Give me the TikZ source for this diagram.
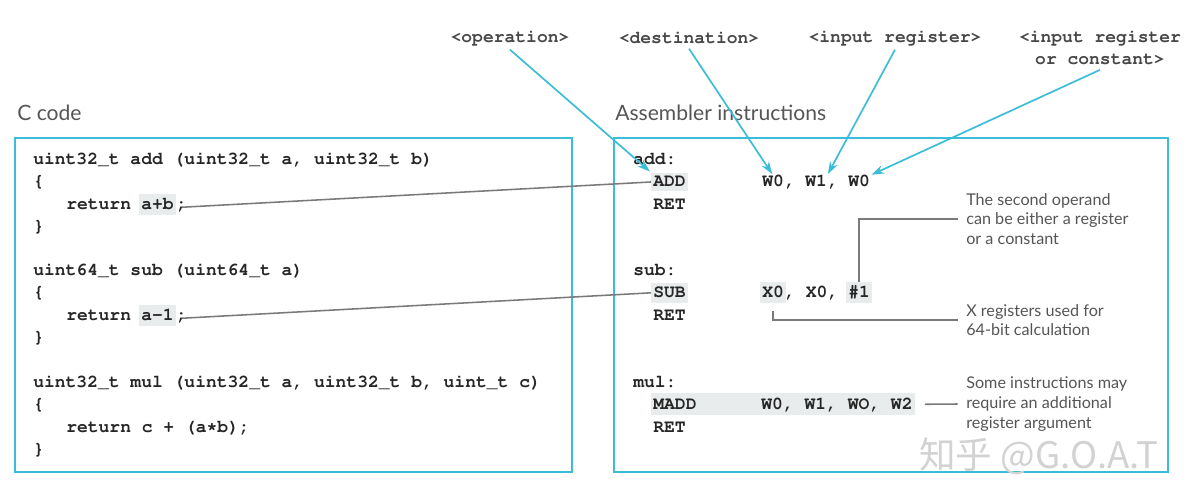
\documentclass[tikz,border=0pt]{standalone}
\usepackage[T1,TU]{fontenc}
\usepackage{fontspec}
\setmainfont{Lato}
\newfontfamily\cjkfont{Noto Sans CJK SC}
\newcommand\courierfont{\fontencoding{T1}\fontfamily{pcr}\selectfont}
\usepackage{tikz}
\usetikzlibrary{arrows.meta,positioning}

\definecolor{cyanline}{HTML}{3BBDD7}
\definecolor{hlgray}{HTML}{E8ECEC}
\definecolor{notegray}{HTML}{555555}
\definecolor{codeblack}{HTML}{262626}
\definecolor{linkgray}{HTML}{7A7A7A}

\begin{document}
\begin{tikzpicture}[
    x=0.025cm, y=-0.025cm,
    code/.style={anchor=base west, inner sep=0pt, text=codeblack,
        font=\courierfont\bfseries\fontsize{12.8}{15}\selectfont},
    hl/.style={code, fill=hlgray, inner xsep=1.5pt, inner ysep=3pt},
    field/.style={inner sep=3pt, text=codeblack!85, align=center,
        font=\courierfont\bfseries\fontsize{12.8}{16}\selectfont},
    title/.style={anchor=west, inner sep=0pt, text=notegray,
        font=\fontsize{15}{18}\selectfont},
    note/.style={anchor=west, inner sep=0pt, text=notegray, align=left,
        font=\fontsize{11.5}{14}\selectfont},
    panel/.style={draw=cyanline, line width=1.4pt},
    pointer/.style={draw=cyanline, line width=1.2pt, shorten >=1pt,
        -{Stealth[length=9pt, width=6pt]}},
    link/.style={draw=linkgray, line width=1.1pt}
]
    \useasboundingbox (0,0) rectangle (1191,504);

    % Panels
    \draw[panel] (15,138) rectangle (572,472);
    \draw[panel] (614,138) rectangle (1168,472);
    \node[title] (ctitle) at (17,113) {C code};
    \node[title] (atitle) at (615,113) {Assembler instructions};

    % C code
    \node[code] (cadd) at (33,165) {uint32\_t add (uint32\_t a, uint32\_t b)};
    \node[code] (caddo) at (33,187) {\{};
    \node[code] (cret1) at (66,210) {return};
    \node[hl] (apb) at (139,210) {a+b};
    \node[code] (semi1) at (apb.base east) {;};
    \node[code] (caddc) at (33,232) {\}};

    \node[code] (csub) at (33,276) {uint64\_t sub (uint64\_t a)};
    \node[code] (csubo) at (33,298) {\{};
    \node[code] (cret2) at (66,321) {return};
    \node[hl] (am1) at (139,321) {a-1};
    \node[code] (semi2) at (am1.base east) {;};
    \node[code] (csubc) at (33,343) {\}};

    \node[code] (cmul) at (33,387) {uint32\_t mul (uint32\_t a, uint32\_t b, uint\_t c)};
    \node[code] (cmulo) at (33,409) {\{};
    \node[code] (cret3) at (66,432) {return c + (a*b);};
    \node[code] (cmulc) at (33,454) {\}};

    % Assembler
    \node[code] (ladd) at (633,165) {add:};
    \node[hl] (opadd) at (651,187) {ADD};
    \node[code] (dst) at (762,187) {W0};
    \node[code] (c1) at (dst.base east) {,};
    \node[code] (src1) at (805,187) {W1};
    \node[code] (c2) at (src1.base east) {,};
    \node[code] (src2) at (848,187) {W0};
    \node[code] (ret1) at (653,210) {RET};

    \node[code] (lsub) at (633,276) {sub:};
    \node[hl] (opsub) at (651,298) {SUB};
    \node[hl] (xdst) at (760,298) {X0};
    \node[code] (xsrc) at (784,298) {, X0,};
    \node[hl] (imm) at (846,298) {\#1};
    \node[code] (ret2) at (653,321) {RET};

    \node[code] (lmul) at (633,387) {mul:};
    \node[hl] (opmul) at (651,409) {MADD~~~~~~W0, W1, WO, W2\hspace{12pt}};
    \node[code] (ret3) at (653,432) {RET};

    % Field labels
    \node[field] (fop) at (510,38) {<operation>};
    \node[field] (fdst) at (689,38) {<destination>};
    \node[field] (fin) at (895,38) {<input register>};
    \node[field, anchor=north] (fconst) at (1100,26) {<input register\\or constant>};

    \draw[pointer] (fop.south) -- (opadd.north west);
    \draw[pointer] (fdst.south) -- (dst.north);
    \draw[pointer] (fin.south) -- (src1.north east);
    \draw[pointer] (fconst.south) -- (src2.north east);

    % C to assembler
    \draw[link] (semi1.center) -- (opadd.west);
    \draw[link] (semi2.center) -- (opsub.west);

    % Notes
    \node[note] (nop) at (966,219) {The second operand\\can be either a register\\or a constant};
    \node[note] (nreg) at (966,320) {X registers used for\\64-bit calculation};
    \node[note] (nmadd) at (966,404) {Some instructions may\\require an additional\\register argument};

    \draw[link, shorten >=6pt] (imm.north) |- (nop.west);
    \draw[link, shorten >=6pt] (xdst.south) ++(0,8) |- (nreg.west);
    \draw[link] ([xshift=7pt]opmul.east) -- ([xshift=-6pt]nmadd.west);

    % Watermark
    \node[text=gray!35, font=\cjkfont\fontsize{26}{28}\selectfont, anchor=east] (wm) at (1163,456) {知乎 @G.O.A.T};
\end{tikzpicture}
\end{document}
